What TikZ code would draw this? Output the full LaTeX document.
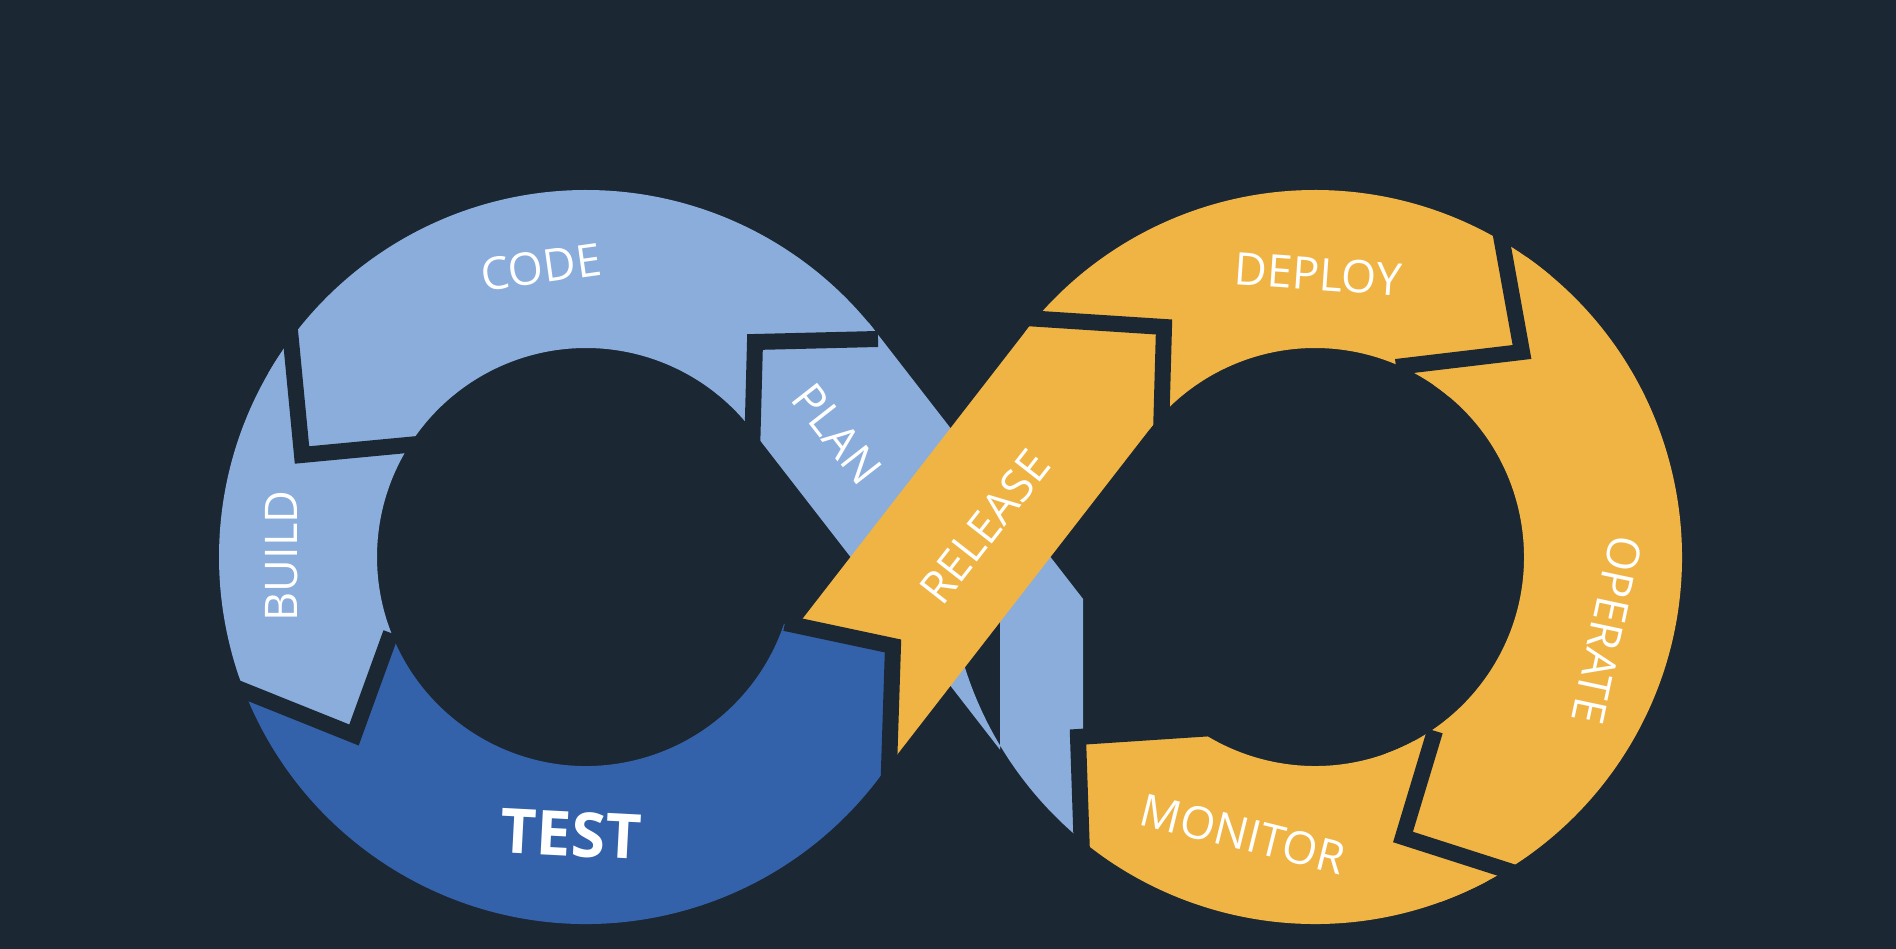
\documentclass[tikz,border=0pt]{standalone}
\usepackage{fontspec}
\setmainfont{Open Sans}
\usetikzlibrary{calc}
\definecolor{bg}{HTML}{1B2733}
\definecolor{lb}{HTML}{8AADDB}
\definecolor{db}{HTML}{3462AA}
\definecolor{og}{HTML}{F0B444}
\begin{document}
\begin{tikzpicture}[x=1pt,y=1pt,
  band/.style={line width=158pt,line cap=butt},
  gapline/.style={draw=bg,line width=16pt,line join=miter},
  lbl/.style={text=white,font=\fontsize{45}{50}\selectfont,inner sep=0pt}]
\fill[bg] (0,0) rectangle (1896,949);
\useasboundingbox (0,0) rectangle (1896,949);
\coordinate (LC) at (586,392);
\coordinate (RC) at (1315,392);
\coordinate (TL) at ($(LC)+(37.8:288)$);
\coordinate (BL) at ($(LC)+(-37.8:288)$);
\coordinate (TR) at ($(RC)+(142.2:288)$);
\coordinate (BR) at ($(RC)+(217.8:288)$);
\coordinate (TLx) at ($(TL)+(127.8:12)$);
\coordinate (BRx) at ($(BR)+(-52.2:85)$);
\coordinate (TRx) at ($(TR)+(52.2:12)$);
% PLAN band (clipped to the ring's outer circle at its lower end)
\begin{scope}
\clip (0,0) -- (1083,0) -- (1083,949) -- (0,949) -- cycle;
\clip (RC) circle[radius=367] (0,0) rectangle (1000,949);
\draw[band,lb] (TLx) -- (BRx);
\end{scope}
% CODE
\draw[band,lb] (TL) arc[start angle=37.8,end angle=150,radius=288];
% TEST
\begin{scope}
\clip (0,0) -- (0,327) -- (790,325) -- (893,303) -- (887,0) -- cycle;
\draw[band,db] ($(LC)+(195:288)$) arc[start angle=195,end angle=352,radius=288];
\end{scope}
% BUILD
\begin{scope}
\clip (200,276) -- (354,214) -- (400,340) -- (586,392) -- (586,949) -- (0,949) -- (0,276) -- cycle;
\draw[band,lb] ($(LC)+(145:288)$) arc[start angle=145,end angle=222,radius=288];
\end{scope}
% DEPLOY, OPERATE
\draw[band,og] (TR) arc[start angle=142.2,end angle=50,radius=288];
\draw[band,og] ($(RC)+(55:288)$) arc[start angle=55,end angle=-70,radius=288];
% MONITOR
\begin{scope}
\clip (1083,0) -- (1078,212) -- (1215,221) -- (1896,221) -- (1896,0) -- cycle;
\draw[band,og] ($(RC)+(-62:288)$) arc[start angle=-62,end angle=-150,radius=288];
\end{scope}
% RELEASE
\begin{scope}
\clip (0,327) -- (790,325) -- (893,303) -- (887,0) -- (1896,0) -- (1896,949) -- (0,949) -- cycle;
\draw[band,og] (BL) -- (TRx);
\end{scope}
% gaps
\coordinate (g1a) at (286,660); \coordinate (g1b) at (302,494); \coordinate (g1c) at (418,505);
\coordinate (g2a) at (222,267); \coordinate (g2b) at (354,214); \coordinate (g2c) at (391,316);
\coordinate (g3a) at (785,326); \coordinate (g3b) at (893,303); \coordinate (g3c) at (888,150);
\coordinate (g4a) at (878,610); \coordinate (g4b) at (755,607); \coordinate (g4c) at (752,495);
\coordinate (g5a) at (1025,631); \coordinate (g5b) at (1164,622); \coordinate (g5c) at (1161,515);
\coordinate (g6a) at (1494,752); \coordinate (g6b) at (1522,597); \coordinate (g6c) at (1396,582);
\coordinate (g7a) at (1534,70); \coordinate (g7b) at (1403,112); \coordinate (g7c) at (1435,218);
\coordinate (g8a) at (1214,221); \coordinate (g8b) at (1078,212); \coordinate (g8c) at (1082,95);
\draw[gapline] (g1a) -- (g1b) -- (g1c);
\draw[gapline] (g2a) -- (g2b) -- (g2c);
\draw[gapline] (g3a) -- (g3b) -- (g3c);
\draw[gapline] (g4a) -- (g4b) -- (g4c);
\draw[gapline] (g5a) -- (g5b) -- (g5c);
\draw[gapline] (g6a) -- (g6b) -- (g6c);
\draw[gapline] (g7a) -- (g7b) -- (g7c);
\draw[gapline] (g8a) -- (g8b) -- (g8c);
% labels
\node[lbl,rotate=8] (code) at (541,682) {CODE};
\node[lbl,rotate=-52] (plan) at (837,515) {PLAN};
\node[lbl,rotate=90] (build) at (282,393) {BUILD};
\node[lbl,rotate=-3,font=\fontsize{62}{70}\selectfont\bfseries] (test) at (571,115) {TEST};
\node[lbl,rotate=52] (release) at (985,422) {RELEASE};
\node[lbl,rotate=-4] (deploy) at (1318,675) {DEPLOY};
\node[lbl,rotate=-102] (operate) at (1607,319) {OPERATE};
\node[lbl,rotate=-14] (monitor) at (1243,115) {MONITOR};
\end{tikzpicture}
\end{document}
